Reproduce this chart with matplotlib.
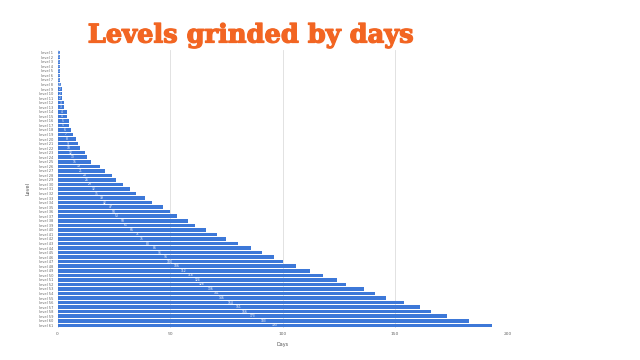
import numpy as np
import matplotlib
matplotlib.use('Agg')
import matplotlib.pyplot as plt
import matplotlib.patheffects as pe

# days needed to reach each level
levels = ['level %d' % n for n in range(1, 62)]
days = [1, 1, 1, 1, 1, 1, 1, 1.5, 2, 2,
        2, 3, 3, 4, 4, 5, 5, 6, 7, 8,
        9, 10, 12, 13, 15, 19, 21, 24, 26, 29,
        32, 35, 39, 42, 47, 50, 53, 58, 61, 66,
        71, 75, 80, 86, 91, 96, 100, 106, 112, 118,
        124, 128, 136, 141, 146, 154, 161, 166, 173, 183,
        193]

fig = plt.figure(figsize=(6.4, 3.6), dpi=100)
ax = fig.add_axes([57.5/640, 1 - 328/360, (507.7 - 57.5)/640, 278/360])

y = np.arange(len(levels))
ax.barh(y, days, height=0.78, color='#3d78d8', zorder=2)
for yi, d in zip(y, days):
    ax.text(d/2, yi, '%g' % d, color='white', fontsize=2.2,
            ha='center', va='center', zorder=3)

ax.set_xlim(0, 200)
ax.set_ylim(len(levels) - 0.4, -0.6)
ax.set_xticks([0, 50, 100, 150, 200])
ax.set_yticks(y)
ax.set_yticklabels(levels, fontsize=2.6, color='#666666')
ax.tick_params(axis='x', labelsize=3.2, labelcolor='#666666', length=0, pad=3)
ax.tick_params(axis='y', length=0, pad=3)
ax.grid(axis='x', color='#dddddd', linewidth=0.6, zorder=0)
for s in ax.spines.values():
    s.set_visible(False)
ax.set_xlabel('Days', fontsize=3.5, color='#555555', labelpad=4)
ax.set_ylabel('Level', fontsize=3.5, color='#555555', labelpad=6)

# heavy slab-like title
fig.text(251/640, 1 - 35/360, 'Levels grinded by days', color='#f26522',
         fontsize=18.5, fontweight='bold', family='DejaVu Serif',
         ha='center', va='center',
         path_effects=[pe.Stroke(linewidth=0.9, foreground='#f26522'),
                       pe.Normal()])

fig.savefig('out.png', dpi=100, facecolor='white')
